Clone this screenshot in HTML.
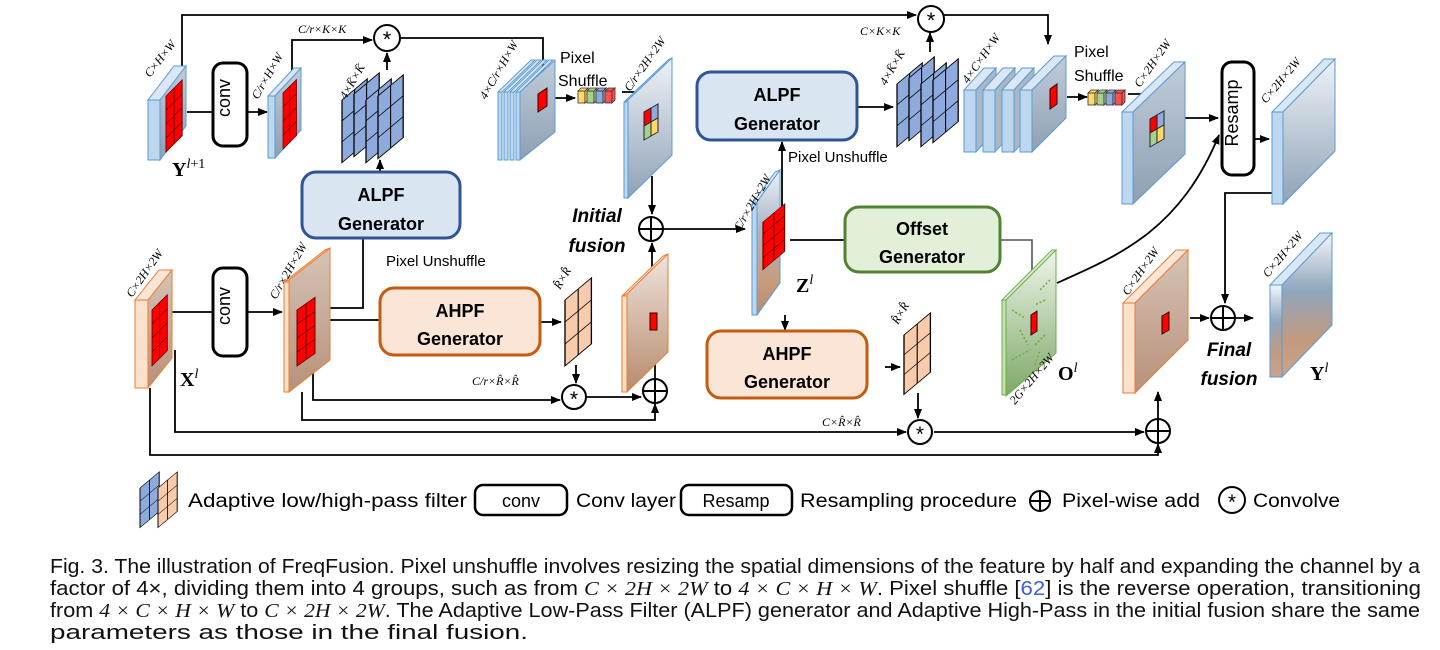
<!DOCTYPE html>
<html><head><meta charset="utf-8"><style>
html,body{margin:0;padding:0;background:#fff;}
svg{display:block;}
.s{font-family:"Liberation Sans",sans-serif;}
.m{font-family:"Liberation Serif",serif;font-style:italic;font-size:12px;}
</style></head><body>
<svg width="1440" height="650" viewBox="0 0 1440 650" xmlns="http://www.w3.org/2000/svg">
<defs>
<marker id="a" markerWidth="10" markerHeight="8" refX="9" refY="4" orient="auto" markerUnits="userSpaceOnUse"><path d="M0,0 L10,4 L0,8 z" fill="#000"/></marker>
<linearGradient id="gB" x1="0" y1="0" x2="0" y2="1"><stop offset="0" stop-color="#eef2f7"/><stop offset="1" stop-color="#8fa2b7"/></linearGradient>
<linearGradient id="gB2" x1="0" y1="0" x2="0" y2="1"><stop offset="0" stop-color="#c0ccd9"/><stop offset="1" stop-color="#8fa0b4"/></linearGradient>
<linearGradient id="gO" x1="0" y1="0" x2="0" y2="1"><stop offset="0" stop-color="#efe3dc"/><stop offset="1" stop-color="#b88a6c"/></linearGradient>
<linearGradient id="gO2" x1="0" y1="0" x2="0" y2="1"><stop offset="0" stop-color="#d6c3b6"/><stop offset="1" stop-color="#b8917a"/></linearGradient>
<linearGradient id="gZ" x1="0" y1="0" x2="0" y2="1"><stop offset="0" stop-color="#eef2f7"/><stop offset="0.4" stop-color="#a9b7c6"/><stop offset="0.75" stop-color="#c79d80"/><stop offset="1" stop-color="#b98a6d"/></linearGradient>
<linearGradient id="gY" x1="0" y1="0" x2="0" y2="1"><stop offset="0" stop-color="#f4f6f9"/><stop offset="0.4" stop-color="#8fa6bd"/><stop offset="0.75" stop-color="#c49a7e"/><stop offset="1" stop-color="#c9a48c"/></linearGradient>
<linearGradient id="gG" x1="0" y1="0" x2="0" y2="1"><stop offset="0" stop-color="#eef5ea"/><stop offset="1" stop-color="#7da868"/></linearGradient>
<g id="kb"><rect width="24" height="66" fill="#8faadc" stroke="#000" stroke-width="1.2"/><line x1="12" y1="0" x2="12" y2="66" stroke="#000"/><line x1="0" y1="22" x2="24" y2="22" stroke="#000"/><line x1="0" y1="44" x2="24" y2="44" stroke="#000"/></g>
<g id="ko"><rect width="24" height="66" fill="#f8cbad" stroke="#000" stroke-width="1.2"/><line x1="12" y1="0" x2="12" y2="66" stroke="#000"/><line x1="0" y1="22" x2="24" y2="22" stroke="#000"/><line x1="0" y1="44" x2="24" y2="44" stroke="#000"/></g>
<g id="rg"><rect width="18" height="56" fill="#ff0000" stroke="#600" stroke-width="1"/><line x1="9" y1="0" x2="9" y2="56" stroke="#600"/><line x1="0" y1="14" x2="18" y2="14" stroke="#600"/><line x1="0" y1="28" x2="18" y2="28" stroke="#600"/><line x1="0" y1="42" x2="18" y2="42" stroke="#600"/></g>
<g id="cube"><rect x="0" y="3" width="7" height="12" stroke="#333" stroke-width="0.8"/><path d="M0,3 L3,0 L10,0 L7,3 z M7,3 L10,0 L10,12 L7,15 z" stroke="#333" stroke-width="0.8"/></g>
<g id="q4"><rect x="0" y="0" width="7" height="14" fill="#ff0000" stroke="#222"/><rect x="7" y="0" width="7" height="14" fill="#8faadc" stroke="#222"/><rect x="0" y="14" width="7" height="14" fill="#a9d18e" stroke="#222"/><rect x="7" y="14" width="7" height="14" fill="#ffd966" stroke="#222"/></g>
</defs>

<g fill="none" stroke="#000" stroke-width="1.8">
<path d="M182,88 V15 H916" marker-end="url(#a)"/>
<path d="M944,15 H1048 V44" marker-end="url(#a)"/>
<path d="M187,112 H212" />
<path d="M247,112 H267" marker-end="url(#a)"/>
<path d="M292,80 V40 H372" marker-end="url(#a)"/>
<path d="M387,70 V53" marker-end="url(#a)"/>
<path d="M400,38 H543 V88" marker-end="url(#a)"/>
<path d="M555,98 H575" marker-end="url(#a)"/>
<path d="M622,92 H650 V108" marker-end="url(#a)"/>
<path d="M652,176 V214" marker-end="url(#a)"/>
<path d="M663,229 H745" marker-end="url(#a)"/>
<path d="M380,172 V160" marker-end="url(#a)"/>
<path d="M363,238 V308 H330"/>
<path d="M172,312 H212"/>
<path d="M247,312 H282" marker-end="url(#a)"/>
<path d="M330,320 H380"/>
<path d="M540,322 H561" marker-end="url(#a)"/>
<path d="M576,365 V383" marker-end="url(#a)"/>
<path d="M313,365 V400 H560" marker-end="url(#a)"/>
<path d="M586,397 H641" marker-end="url(#a)"/>
<path d="M302,392 V420 H655 V404" marker-end="url(#a)"/>
<path d="M655,378 V338" marker-end="url(#a)"/>
<path d="M652,272 V243" marker-end="url(#a)"/>
<path d="M175,350 V432 H906" marker-end="url(#a)"/>
<path d="M150,388 V455 H1158 V444" marker-end="url(#a)"/>
<path d="M790,240 H845"/>
<path d="M782,210 V142" marker-end="url(#a)"/>
<path d="M857,107 H893" marker-end="url(#a)"/>
<path d="M930,52 V33" marker-end="url(#a)"/>
<path d="M1067,97 H1087" marker-end="url(#a)"/>
<path d="M1128,94 H1158 V118" marker-end="url(#a)"/>
<path d="M1170,118 H1218" marker-end="url(#a)"/>
<path d="M1254,139 H1269" marker-end="url(#a)"/>
<path d="M1272,193 H1225 V303" marker-end="url(#a)"/>
<path d="M1057,283 C1120,255 1180,230 1219,135" marker-end="url(#a)"/>
<path d="M785,315 V330" marker-end="url(#a)"/>
<path d="M885,367 H900" marker-end="url(#a)"/>
<path d="M918,393 V418" marker-end="url(#a)"/>
<path d="M934,432 H1144" marker-end="url(#a)"/>
<path d="M1158,418 V392" marker-end="url(#a)"/>
<path d="M1190,318 H1209" marker-end="url(#a)"/>
<path d="M1236,318 H1253" marker-end="url(#a)"/>
</g>
<path d="M1000,240 H1032 V305" fill="none" stroke="#555" stroke-width="1.6" marker-end="url(#a)"/>

<polygon points="148,100 160,100 186,66 174,66" fill="#dbe7f4" stroke="#5b9bd5"/>
<rect x="148" y="100" width="12" height="60" fill="#bdd7ee" stroke="#5b9bd5"/>
<polygon points="160,100 186,66 186,126 160,160" fill="url(#gB2)" stroke="#5b9bd5"/>
<use href="#rg" transform="translate(166,96) skewY(-45) scale(0.9,1)"/>
<text x="150" y="78" class="m" font-size="14" transform="rotate(-52 150 78)">C×H×W</text>
<text x="172" y="176" font-family="Liberation Serif,serif" font-weight="bold" font-size="20">Y<tspan font-style="italic" font-weight="normal" font-size="14" dy="-8">l</tspan><tspan font-weight="normal" font-size="14">+1</tspan></text>
<rect x="213" y="63" width="34" height="83" rx="10" fill="#fff" stroke="#000" stroke-width="3"/>
<text x="236" y="104" class="s" font-size="18" text-anchor="middle" transform="rotate(-90 230 104)">conv</text>
<polygon points="268,96 275,96 301,68 294,68" fill="#dbe7f4" stroke="#5b9bd5"/>
<rect x="268" y="96" width="7" height="62" fill="#bdd7ee" stroke="#5b9bd5"/>
<polygon points="275,96 301,68 301,130 275,158" fill="url(#gB2)" stroke="#5b9bd5"/>
<use href="#rg" transform="translate(283,93) skewY(-45) scale(0.75,1)"/>
<text x="258" y="100" class="m" font-size="11" transform="rotate(-60 258 100)">C/r×H×W</text>
<text x="298" y="33" class="m" font-size="13">C/r×K×K</text>
<circle cx="387" cy="38" r="13" fill="#fff" stroke="#000" stroke-width="2"/>
<text x="387" y="47" class="s" font-size="22" text-anchor="middle">*</text>
<use href="#kb" transform="translate(342,100) skewY(-40) scale(1.05,0.95)"/>
<use href="#kb" transform="translate(354,94) skewY(-40) scale(1.05,0.95)"/>
<use href="#kb" transform="translate(366,100) skewY(-40) scale(1.05,0.95)"/>
<use href="#kb" transform="translate(378,96) skewY(-40) scale(1.05,0.95)"/>
<text x="346" y="100" class="m" font-size="14" transform="rotate(-60 346 100)">4×K̄×K̄</text>
<polygon points="498,92 502,92 535,60 531,60" fill="#dbe7f4" stroke="#5b9bd5"/>
<rect x="498" y="92" width="4" height="68" fill="#bdd7ee" stroke="#5b9bd5"/>
<polygon points="504,92 508,92 541,60 537,60" fill="#dbe7f4" stroke="#5b9bd5"/>
<rect x="504" y="92" width="4" height="68" fill="#bdd7ee" stroke="#5b9bd5"/>
<polygon points="510,92 514,92 547,60 543,60" fill="#dbe7f4" stroke="#5b9bd5"/>
<rect x="510" y="92" width="4" height="68" fill="#bdd7ee" stroke="#5b9bd5"/>
<polygon points="516,92 520,92 553,60 549,60" fill="#dbe7f4" stroke="#5b9bd5"/>
<rect x="516" y="92" width="4" height="68" fill="#bdd7ee" stroke="#5b9bd5"/>
<polygon points="520,92 555,60 555,132 520,160" fill="url(#gB2)" stroke="#5b9bd5"/>
<polygon points="538,94 547,88 547,106 538,112" fill="#ff0000" stroke="#300"/>
<text x="486" y="100" class="m" font-size="10" transform="rotate(-60 486 100)">4×C/r×H×W</text>
<text x="560" y="63" class="s" font-size="16">Pixel</text>
<text x="558" y="86" class="s" font-size="16">Shuffle</text>
<g transform="translate(578,88)"><use href="#cube" fill="#ffd966"/><use href="#cube" x="9" fill="#a9d18e"/><use href="#cube" x="18" fill="#8faadc"/><use href="#cube" x="27" fill="#ff5050"/></g>
<polygon points="624,102 628,100 672,58 668,60" fill="#dbe7f4" stroke="#5b9bd5"/>
<rect x="624" y="102" width="4" height="96" fill="#bdd7ee" stroke="#5b9bd5"/>
<polygon points="628,100 672,58 672,155 628,198" fill="url(#gB)" stroke="#5b9bd5"/>
<use href="#q4" transform="translate(644,112) skewY(-30)"/>
<text x="630" y="92" class="m" font-size="10" transform="rotate(-55 630 92)">C/r×2H×2W</text>
<circle cx="651" cy="229" r="12" fill="#fff" stroke="#000" stroke-width="2"/>
<path d="M639,229 H663 M651,217 V241" stroke="#000" stroke-width="2"/>
<text x="597" y="222" class="s" font-size="19" font-weight="bold" font-style="italic" text-anchor="middle">Initial</text>
<text x="597" y="252" class="s" font-size="19" font-weight="bold" font-style="italic" text-anchor="middle">fusion</text>
<rect x="302" y="172" width="158" height="66" rx="14" fill="#dae5f2" stroke="#2f5597" stroke-width="3"/>
<text x="381" y="201" class="s" font-size="18" font-weight="bold" text-anchor="middle">ALPF</text>
<text x="381" y="230" class="s" font-size="18" font-weight="bold" text-anchor="middle">Generator</text>
<text x="386" y="266" class="s" font-size="15">Pixel Unshuffle</text>
<polygon points="135,300 148,300 172,270 159,270" fill="#fbe5d6" stroke="#ed7d31"/>
<rect x="135" y="300" width="13" height="88" fill="#fbe0cc" stroke="#ed7d31"/>
<polygon points="148,300 172,270 172,358 148,388" fill="url(#gO2)" stroke="#ed7d31"/>
<use href="#rg" transform="translate(152,310) skewY(-45) scale(0.85,1)"/>
<text x="132" y="298" class="m" font-size="14" transform="rotate(-55 132 298)">C×2H×2W</text>
<text x="180" y="386" font-family="Liberation Serif,serif" font-weight="bold" font-size="20">X<tspan font-style="italic" font-weight="normal" font-size="14" dy="-8">l</tspan></text>
<rect x="213" y="268" width="34" height="88" rx="10" fill="#fff" stroke="#000" stroke-width="3"/>
<text x="236" y="312" class="s" font-size="18" text-anchor="middle" transform="rotate(-90 230 312)">conv</text>
<polygon points="284,282 289,280 330,248 325,250" fill="#fbe5d6" stroke="#ed7d31"/>
<rect x="284" y="282" width="5" height="110" fill="#fbe0cc" stroke="#ed7d31"/>
<polygon points="289,280 330,248 330,360 289,392" fill="url(#gO2)" stroke="#ed7d31"/>
<use href="#rg" transform="translate(297,310) skewY(-35)"/>
<text x="276" y="300" class="m" font-size="11" transform="rotate(-60 276 300)">C/r×2H×2W</text>
<rect x="380" y="288" width="160" height="67" rx="14" fill="#fbe5d6" stroke="#c55a11" stroke-width="3"/>
<text x="460" y="317" class="s" font-size="18" font-weight="bold" text-anchor="middle">AHPF</text>
<text x="460" y="345" class="s" font-size="18" font-weight="bold" text-anchor="middle">Generator</text>
<use href="#ko" transform="translate(565,300) skewY(-40) scale(1.1,1)"/>
<text x="560" y="290" class="m" font-size="13" transform="rotate(-60 560 290)">R̂×R̂</text>
<text x="472" y="385" class="m" font-size="13">C/r×R̂×R̂</text>
<circle cx="574" cy="397" r="12" fill="#fff" stroke="#000" stroke-width="2"/>
<text x="574" y="406" class="s" font-size="21" text-anchor="middle">*</text>
<circle cx="655" cy="391" r="12" fill="#fff" stroke="#000" stroke-width="2"/>
<path d="M643,391 H667 M655,379 V403" stroke="#000" stroke-width="2"/>
<polygon points="622,296 627,294 668,254 663,256" fill="#fbe5d6" stroke="#ed7d31"/>
<rect x="622" y="296" width="5" height="96" fill="#fbe0cc" stroke="#ed7d31"/>
<polygon points="627,294 668,254 668,352 627,392" fill="url(#gO)" stroke="#ed7d31"/>
<rect x="650" y="313" width="7" height="17" fill="#ff0000" stroke="#300"/>
<text x="822" y="426" class="m" font-size="13">C×R̂×R̂</text>
<circle cx="920" cy="432" r="12" fill="#fff" stroke="#000" stroke-width="2"/>
<text x="920" y="441" class="s" font-size="21" text-anchor="middle">*</text>
<circle cx="1158" cy="431" r="12" fill="#fff" stroke="#000" stroke-width="2"/>
<path d="M1146,431 H1170 M1158,419 V443" stroke="#000" stroke-width="2"/>
<polygon points="752,204 757,202 780,170 775,172" fill="#dbe7f4" stroke="#5b9bd5"/>
<rect x="752" y="204" width="5" height="111" fill="#bdd7ee" stroke="#5b9bd5"/>
<polygon points="757,202 780,170 780,283 757,315" fill="url(#gZ)" stroke="#5b9bd5"/>
<use href="#rg" transform="translate(763,222) skewY(-40) scale(1.2,0.85)"/>
<text x="740" y="232" class="m" font-size="11" transform="rotate(-60 740 232)">C/r×2H×2W</text>
<text x="796" y="292" font-family="Liberation Serif,serif" font-weight="bold" font-size="20">Z<tspan font-style="italic" font-weight="normal" font-size="14" dy="-8">l</tspan></text>
<rect x="697" y="72" width="160" height="68" rx="14" fill="#dae5f2" stroke="#2f5597" stroke-width="3"/>
<text x="777" y="101" class="s" font-size="18" font-weight="bold" text-anchor="middle">ALPF</text>
<text x="777" y="130" class="s" font-size="18" font-weight="bold" text-anchor="middle">Generator</text>
<text x="788" y="162" class="s" font-size="15">Pixel Unshuffle</text>
<use href="#kb" transform="translate(897,84) skewY(-40) scale(1.05,0.95)"/>
<use href="#kb" transform="translate(909,78) skewY(-40) scale(1.05,0.95)"/>
<use href="#kb" transform="translate(921,84) skewY(-40) scale(1.05,0.95)"/>
<use href="#kb" transform="translate(933,80) skewY(-40) scale(1.05,0.95)"/>
<text x="886" y="86" class="m" font-size="14" transform="rotate(-60 886 86)">4×K̄×K̄</text>
<text x="860" y="35" class="m" font-size="13">C×K×K</text>
<circle cx="931" cy="19" r="13" fill="#fff" stroke="#000" stroke-width="2"/>
<text x="931" y="28" class="s" font-size="22" text-anchor="middle">*</text>
<g stroke="#5b9bd5" stroke-width="1">
<polygon points="964,90 976,90 996,68 984,68" fill="#dbe7f4"/><rect x="964" y="90" width="12" height="62" fill="#bdd7ee"/><polygon points="976,90 996,68 996,130 976,152" fill="#a9b7c6"/>
<polygon points="983,90 995,90 1015,68 1003,68" fill="#dbe7f4"/><rect x="983" y="90" width="12" height="62" fill="#bdd7ee"/><polygon points="995,90 1015,68 1015,130 995,152" fill="#a9b7c6"/>
<polygon points="1002,90 1014,90 1034,68 1022,68" fill="#dbe7f4"/><rect x="1002" y="90" width="12" height="62" fill="#bdd7ee"/><polygon points="1014,90 1034,68 1034,130 1014,152" fill="#a9b7c6"/>
<polygon points="1020,90 1032,90 1066,56 1054,56" fill="#dbe7f4"/><rect x="1020" y="90" width="12" height="62" fill="#bdd7ee"/><polygon points="1032,90 1066,56 1066,118 1032,152" fill="url(#gB2)"/>
</g>
<polygon points="1050,89 1057,84 1057,104 1050,109" fill="#ff0000" stroke="#300"/>
<text x="968" y="84" class="m" font-size="11" transform="rotate(-55 968 84)">4×C×H×W</text>
<text x="1074" y="57" class="s" font-size="16">Pixel</text>
<text x="1074" y="81" class="s" font-size="16">Shuffle</text>
<g transform="translate(1088,90)"><use href="#cube" fill="#ffd966"/><use href="#cube" x="9" fill="#a9d18e"/><use href="#cube" x="18" fill="#8faadc"/><use href="#cube" x="27" fill="#ff5050"/></g>
<polygon points="1122,112 1133,112 1185,62 1174,62" fill="#dbe7f4" stroke="#5b9bd5"/>
<rect x="1122" y="112" width="11" height="92" fill="#bdd7ee" stroke="#5b9bd5"/>
<polygon points="1133,112 1185,62 1185,154 1133,204" fill="url(#gB2)" stroke="#5b9bd5"/>
<use href="#q4" transform="translate(1150,119) skewY(-30)"/>
<text x="1140" y="88" class="m" font-size="11" transform="rotate(-55 1140 88)">C×2H×2W</text>
<rect x="1222" y="62" width="32" height="113" rx="10" fill="#fff" stroke="#000" stroke-width="3"/>
<text x="1244" y="119" class="s" font-size="18" text-anchor="middle" transform="rotate(-90 1238 119)">Resamp</text>
<polygon points="1272,112 1283,112 1335,59 1324,59" fill="#dbe7f4" stroke="#5b9bd5"/>
<rect x="1272" y="112" width="11" height="92" fill="#bdd7ee" stroke="#5b9bd5"/>
<polygon points="1283,112 1335,59 1335,151 1283,204" fill="url(#gB)" stroke="#5b9bd5"/>
<text x="1266" y="104" class="m" font-size="14" transform="rotate(-50 1266 104)">C×2H×2W</text>
<rect x="845" y="207" width="155" height="65" rx="14" fill="#e2efd9" stroke="#548235" stroke-width="3"/>
<text x="922" y="235" class="s" font-size="18" font-weight="bold" text-anchor="middle">Offset</text>
<text x="922" y="263" class="s" font-size="18" font-weight="bold" text-anchor="middle">Generator</text>
<polygon points="1002,300 1006,300 1056,250 1052,250" fill="#e2efd9" stroke="#70ad47"/>
<rect x="1002" y="300" width="4" height="95" fill="#c5e0b4" stroke="#70ad47"/>
<polygon points="1006,300 1056,250 1056,353 1006,396" fill="url(#gG)" stroke="#70ad47"/>
<g stroke="#70ad47" stroke-width="1.6" stroke-dasharray="2,2" fill="none">
<path d="M1012,310 L1025,318 M1050,280 L1040,290 M1045,300 L1035,305 M1020,330 L1028,345 M1045,335 L1035,345 M1012,360 L1030,350 M1035,365 L1040,350"/>
</g>
<polygon points="1031,315 1037,311 1037,331 1031,335" fill="#ff0000" stroke="#300"/>
<text x="1015" y="405" class="m" font-size="11" transform="rotate(-50 1015 405)">2G×2H×2W</text>
<text x="1058" y="380" font-family="Liberation Serif,serif" font-weight="bold" font-size="20">O<tspan font-style="italic" font-weight="normal" font-size="14" dy="-8">l</tspan></text>
<rect x="707" y="331" width="160" height="67" rx="14" fill="#fbe5d6" stroke="#c55a11" stroke-width="3"/>
<text x="787" y="360" class="s" font-size="18" font-weight="bold" text-anchor="middle">AHPF</text>
<text x="787" y="388" class="s" font-size="18" font-weight="bold" text-anchor="middle">Generator</text>
<use href="#ko" transform="translate(904,335) skewY(-40) scale(1.1,0.9)"/>
<text x="898" y="325" class="m" font-size="13" transform="rotate(-60 898 325)">R̂×R̂</text>
<polygon points="1123,303 1135,303 1188,250 1176,250" fill="#fbe5d6" stroke="#ed7d31"/>
<rect x="1123" y="303" width="12" height="90" fill="#fbe0cc" stroke="#ed7d31"/>
<polygon points="1135,303 1188,250 1188,340 1135,393" fill="url(#gO2)" stroke="#ed7d31"/>
<polygon points="1162,316 1169,312 1169,330 1162,334" fill="#ff0000" stroke="#300"/>
<text x="1128" y="296" class="m" font-size="11" transform="rotate(-55 1128 296)">C×2H×2W</text>
<circle cx="1223" cy="318" r="12" fill="#fff" stroke="#000" stroke-width="2"/>
<path d="M1211,318 H1235 M1223,306 V330" stroke="#000" stroke-width="2"/>
<text x="1229" y="356" class="s" font-size="19" font-weight="bold" font-style="italic" text-anchor="middle">Final</text>
<text x="1229" y="385" class="s" font-size="19" font-weight="bold" font-style="italic" text-anchor="middle">fusion</text>
<polygon points="1270,285 1282,285 1332,233 1320,233" fill="#dbe7f4" stroke="#5b9bd5"/>
<rect x="1270" y="285" width="12" height="92" fill="url(#gY)" stroke="#5b9bd5"/>
<polygon points="1282,285 1332,233 1332,325 1282,377" fill="url(#gY)" stroke="#5b9bd5"/>
<text x="1268" y="278" class="m" font-size="14" transform="rotate(-50 1268 278)">C×2H×2W</text>
<text x="1310" y="380" font-family="Liberation Serif,serif" font-weight="bold" font-size="20">Y<tspan font-style="italic" font-weight="normal" font-size="14" dy="-8">l</tspan></text>

<use href="#kb" transform="translate(140,488) skewY(-40) scale(0.8,0.6)"/>
<use href="#ko" transform="translate(158,488) skewY(-40) scale(0.8,0.6)"/>
<text x="188" y="507" class="s" font-size="19" textLength="279" lengthAdjust="spacingAndGlyphs">Adaptive low/high-pass filter</text>
<rect x="475" y="485" width="92" height="30" rx="8" fill="#fff" stroke="#000" stroke-width="2.5"/>
<text x="521" y="507" class="s" font-size="18" text-anchor="middle">conv</text>
<text x="576" y="507" class="s" font-size="19" textLength="100" lengthAdjust="spacingAndGlyphs">Conv layer</text>
<rect x="681" y="485" width="111" height="30" rx="8" fill="#fff" stroke="#000" stroke-width="2.5"/>
<text x="736" y="507" class="s" font-size="18" text-anchor="middle">Resamp</text>
<text x="800" y="507" class="s" font-size="19" textLength="217" lengthAdjust="spacingAndGlyphs">Resampling procedure</text>
<circle cx="1040" cy="501" r="10" fill="#fff" stroke="#000" stroke-width="2"/>
<path d="M1030,501 H1050 M1040,491 V511" stroke="#000" stroke-width="2"/>
<text x="1062" y="507" class="s" font-size="19" textLength="138" lengthAdjust="spacingAndGlyphs">Pixel-wise add</text>
<circle cx="1232" cy="500" r="13" fill="#fff" stroke="#000" stroke-width="2"/>
<text x="1232" y="509" class="s" font-size="21" text-anchor="middle">*</text>
<text x="1253" y="507" class="s" font-size="19" textLength="87" lengthAdjust="spacingAndGlyphs">Convolve</text>

<g class="s" font-size="20" fill="#111">
<text x="50" y="573" textLength="1370" lengthAdjust="spacingAndGlyphs">Fig. 3.  The illustration of FreqFusion. Pixel unshuffle involves resizing the spatial dimensions of the feature by half and expanding the channel by a</text>
<text x="50" y="595" textLength="1371" lengthAdjust="spacingAndGlyphs">factor of 4×, dividing them into 4 groups, such as from <tspan font-family="Liberation Serif,serif" font-style="italic">C × 2H × 2W</tspan> to <tspan font-family="Liberation Serif,serif" font-style="italic">4 × C × H × W</tspan>. Pixel shuffle [<tspan fill="#3a5fd9">62</tspan>] is the reverse operation, transitioning</text>
<text x="50" y="617" textLength="1370" lengthAdjust="spacingAndGlyphs">from <tspan font-family="Liberation Serif,serif" font-style="italic">4 × C × H × W</tspan> to <tspan font-family="Liberation Serif,serif" font-style="italic">C × 2H × 2W</tspan>. The Adaptive Low-Pass Filter (ALPF) generator and Adaptive High-Pass in the initial fusion share the same</text>
<text x="50" y="639" textLength="478" lengthAdjust="spacingAndGlyphs">parameters as those in the final fusion.</text>
</g>
</svg>
</body></html>
